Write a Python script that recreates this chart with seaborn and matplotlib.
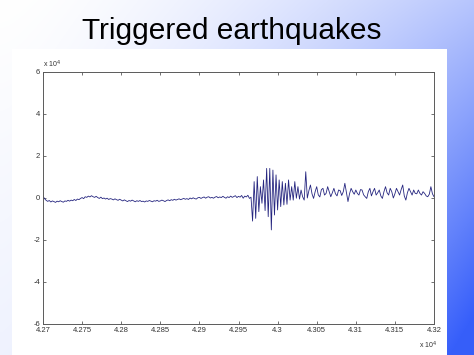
import numpy as np
import pandas as pd
import matplotlib
matplotlib.use("Agg")
import matplotlib.pyplot as plt
from matplotlib.patches import Rectangle
from matplotlib.ticker import FuncFormatter, FixedLocator
import seaborn as sns

# ── DATA (amplitude in units of 10^4 counts, one sample every 2 s) ────────────
T0 = 42700
DT = 2

pre_event = [
    0.08, -0.03, -0.11, -0.16, -0.12, -0.19, -0.14, -0.17, -0.21, -0.15,
    -0.18, -0.13, -0.17, -0.20, -0.14, -0.16, -0.11, -0.15, -0.10, -0.13,
    -0.07, -0.12, -0.05, -0.08, -0.02, 0.02, -0.03, 0.06, 0.03, 0.09,
    0.05, 0.11, 0.06, 0.03, 0.08, 0.02, -0.02, 0.04, -0.03, 0.00,
    -0.05, -0.01, -0.07, -0.03, -0.05, -0.09, -0.04, -0.08, -0.11, -0.06,
    -0.10, -0.14, -0.09, -0.13, -0.17, -0.12, -0.15, -0.10, -0.14, -0.18,
    -0.13, -0.16, -0.12, -0.17, -0.15, -0.19, -0.14, -0.16, -0.12, -0.15,
    -0.18, -0.13, -0.15, -0.11, -0.16, -0.14, -0.10, -0.13, -0.17, -0.12,
    -0.09, -0.13, -0.08, -0.11, -0.06, -0.10, -0.07, -0.04, -0.08, -0.05,
    -0.02, -0.06, -0.03, -0.07, 0.00, -0.04, 0.01, -0.03, -0.05, 0.01,
    0.03, -0.02, 0.02, 0.05, -0.01, 0.04, 0.06, 0.00, 0.03, -0.01,
    0.04, 0.07, 0.01, 0.05, 0.02, 0.08, 0.03, -0.01, 0.06, 0.02,
    0.09, 0.03, 0.07, 0.11, 0.02, 0.08, 0.04, 0.12, -0.01, 0.09,
    0.05, 0.13, -0.02, 0.04,
]

burst = [
    -1.10, 0.78, -0.97, 1.02, -0.65, 0.54, -0.25, 0.86, -0.60, 1.41,
    -0.89, 1.41, -1.52, 1.33, -0.81, 1.10, -0.57, 0.86, -0.41, 0.78,
    -0.33, 0.70, -0.30, 0.86, -0.10, 0.54, -0.10, 0.78, -0.01, 0.54,
    -0.05, 0.38, 0.06, -0.10, 1.25,
]

coda = [
    0.00, 0.35, 0.62, 0.20, -0.02, 0.30, 0.54, 0.15, 0.05, 0.40,
    0.46, 0.14, 0.22, 0.54, 0.30, 0.06, 0.25, 0.46, 0.20, 0.10,
    0.38, 0.35, 0.12, 0.30, 0.70, 0.25, -0.17, 0.20, 0.46, 0.30,
    0.18, 0.38, 0.22, 0.14, 0.40, 0.38, 0.15, 0.06, -0.02, 0.30,
    0.46, 0.10, 0.30, 0.46, 0.14, 0.25, 0.38, 0.10, -0.02, 0.30,
    0.54, 0.25, 0.14, 0.46, 0.30, 0.00, 0.20, 0.46, 0.30, 0.14,
    0.40, 0.62, 0.10, -0.10, 0.25, 0.46, 0.30, 0.14, 0.38, 0.22,
    0.20, 0.38, 0.22, 0.14, 0.30, 0.22, 0.10, 0.06, 0.18, 0.54,
    0.20, 0.06,
]

x_ticks = [4.27, 4.275, 4.28, 4.285, 4.29, 4.295, 4.3, 4.305, 4.31, 4.315, 4.32]
y_ticks = [-6, -4, -2, 0, 2, 4, 6]

amp = np.array(pre_event + burst + coda)
time = (T0 + DT * np.arange(len(amp))) / 1e4
df = pd.DataFrame({"time": time, "amp": amp})

# ── FIGURE ────────────────────────────────────────────────────────────────────
sns.set_theme(style="white")
plt.rcParams["font.family"] = ["Liberation Sans", "DejaVu Sans"]

fig = plt.figure(figsize=(4.74, 3.55), dpi=100)

# slide background: white fading to blue toward the lower right
bg = fig.add_axes([0, 0, 1, 1], zorder=-2)
H, W = 355, 474
u = np.linspace(0, 1, W)[None, :]
v = np.linspace(0, 1, H)[:, None]
t = np.clip(u ** 1.6 * (0.36 + 0.64 * v) + 0.08 * v, 0, 1)
white = np.array([1.0, 1.0, 1.0])
blue = np.array([55, 95, 250]) / 255
img = white[None, None, :] * (1 - t[..., None]) + blue[None, None, :] * t[..., None]
bg.imshow(img, extent=[0, 1, 0, 1], aspect="auto", origin="upper")
bg.add_patch(Rectangle((12 / W, 0), (447 - 12) / W, 1 - 49 / H,
                       facecolor="white", edgecolor="none"))
bg.set_xlim(0, 1)
bg.set_ylim(0, 1)
bg.axis("off")

fig.text(232 / W, 1 - 31 / H, "Triggered earthquakes", ha="center", va="center",
         fontsize=21.5, color="black")

ax = fig.add_axes([43 / W, 1 - 324 / H, (434 - 43) / W, (324 - 72) / H])
ax.set_facecolor("white")
sns.lineplot(data=df, x="time", y="amp", ax=ax, estimator=None,
             color="#262680", linewidth=0.6)

ax.set_xlim(4.27, 4.32)
ax.set_ylim(-6, 6)
ax.xaxis.set_major_locator(FixedLocator(x_ticks))
ax.yaxis.set_major_locator(FixedLocator(y_ticks))
fmt = FuncFormatter(lambda val, pos: f"{val:g}")
ax.xaxis.set_major_formatter(fmt)
ax.yaxis.set_major_formatter(fmt)
ax.set_xlabel("")
ax.set_ylabel("")

for side in ["top", "right", "bottom", "left"]:
    ax.spines[side].set_visible(True)
    ax.spines[side].set_color("#5a5a5a")
    ax.spines[side].set_linewidth(0.7)
ax.tick_params(axis="both", direction="in", length=2.5, width=0.6,
               colors="#5a5a5a", labelcolor="#333333", labelsize=5.5, pad=2,
               top=True, right=True, bottom=True, left=True)

ax.text(0.0, 1.006, r"x 10$^{4}$", transform=ax.transAxes, ha="left", va="bottom",
        fontsize=5, color="#333333")
ax.text(1.008, -0.085, r"x 10$^{4}$", transform=ax.transAxes, ha="right", va="center",
        fontsize=5, color="#333333")

fig.savefig("out.png", dpi=100)
